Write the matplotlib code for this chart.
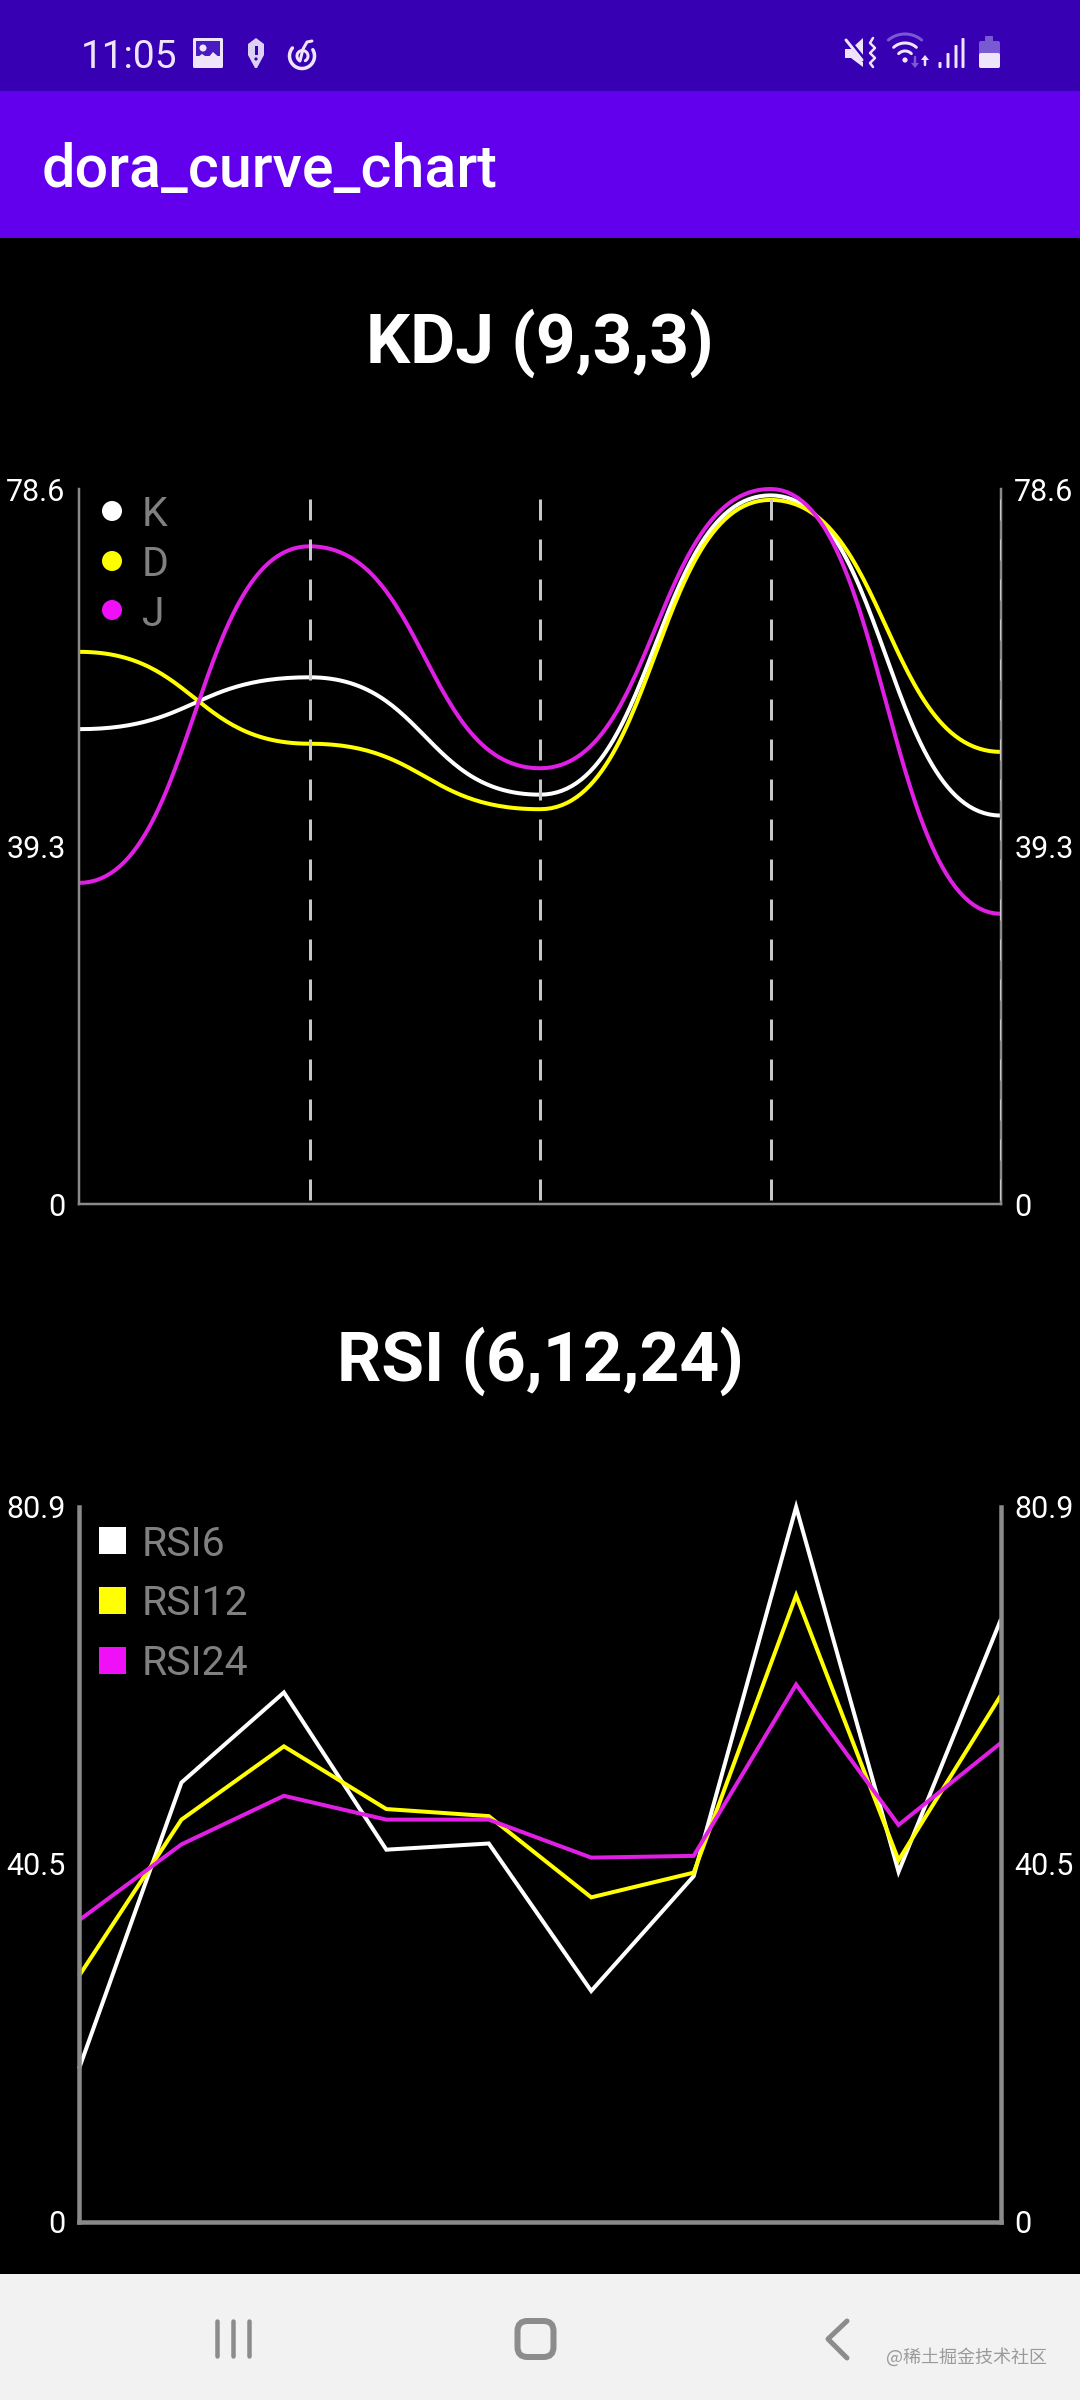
import numpy as np
import matplotlib
matplotlib.use("Agg")
import matplotlib.pyplot as plt
from matplotlib.patches import Rectangle, FancyBboxPatch, Polygon, Circle

plt.rcParams['font.family'] = ['Roboto', 'DejaVu Sans']
plt.rcParams['lines.scale_dashes'] = False

# ---- data ----
app_title = "dora_curve_chart"
status_time = "11:05"
watermark = "@稀土掘金技术社区"

kdj_title = "KDJ (9,3,3)"
kdj_ticks = [0, 39.3, 78.6]
kdj_names = ["K", "D", "J"]
k_values = [52.2, 57.9, 45.0, 77.9, 42.7]
d_values = [60.7, 50.6, 43.4, 77.4, 49.7]
j_values = [35.3, 72.3, 47.9, 78.6, 31.9]

rsi_title = "RSI (6,12,24)"
rsi_ticks = [0, 40.5, 80.9]
rsi_names = ["RSI6", "RSI12", "RSI24"]
rsi6_values = [17.3, 49.7, 59.9, 42.1, 42.8, 26.1, 39.1, 80.9, 39.6, 68.2]
rsi12_values = [27.8, 45.5, 53.8, 46.7, 45.9, 36.7, 39.5, 70.9, 40.9, 59.6]
rsi24_values = [34.1, 42.7, 48.2, 45.5, 45.5, 41.2, 41.4, 60.8, 44.9, 54.2]

# ---- style ----
WHITE, YELLOW, MAGENTA = '#FFFFFF', '#FFFF00', '#E01FE4'
LEGEND_MAGENTA = '#F010F8'
AXIS = '#8A8A8A'
GRID = '#C8C8C8'
ICON = '#EFE5FB'
ICON_DIM = '#7A5AD2'
PX = 72 / 100  # one pixel in points


def smooth(values, n=60):
    """Cubic segments with flat tangents at every value, as the chart's curve mode."""
    xs, ys = [], []
    t = np.linspace(0, 1, n)
    for i in range(len(values) - 1):
        y0, y1 = values[i], values[i + 1]
        bx = i + 3 * (1 - t) ** 2 * t * 0.5 + 3 * (1 - t) * t ** 2 * 0.5 + t ** 3
        by = (1 - t) ** 3 * y0 + 3 * (1 - t) ** 2 * t * y0 + 3 * (1 - t) * t ** 2 * y1 + t ** 3 * y1
        xs.extend(bx)
        ys.extend(by)
    return xs, ys


fig = plt.figure(figsize=(10.8, 24), dpi=100, facecolor='black')

# pixel overlay for the phone chrome and the legends
ui = fig.add_axes([0, 0, 1, 1], zorder=0)
ui.set_xlim(0, 1080)
ui.set_ylim(2400, 0)
ui.axis('off')

ui.add_patch(Rectangle((0, 0), 1080, 91, fc='#3700B3', lw=0))
ui.add_patch(Rectangle((0, 91), 1080, 147, fc='#6200EE', lw=0))
ui.add_patch(Rectangle((0, 2274), 1080, 126, fc='#F2F2F2', lw=0))

ui.text(81, 68, status_time, color=ICON, fontsize=28, va='baseline', ha='left')
ui.text(42, 187, app_title, color='white', fontsize=42.7, fontweight='medium', va='baseline', ha='left')
ui.text(540, 343, kdj_title, color='white', fontsize=50, fontweight='bold', va='center', ha='center')
ui.text(540, 1361, rsi_title, color='white', fontsize=50, fontweight='bold', va='center', ha='center')


def stroke(xs, ys, color=ICON, w=3, cap='round'):
    ui.plot(xs, ys, color=color, lw=w * PX, solid_capstyle=cap, solid_joinstyle='round')


def arc(cx, cy, r, a0, a1, color=ICON, w=3):
    a = np.radians(np.linspace(a0, a1, 60))
    stroke(cx + r * np.cos(a), cy - r * np.sin(a), color, w)


def rbox(x, y, w, h, r, fc, ec='none', lw=0):
    ui.add_patch(FancyBboxPatch((x + r, y + r), w - 2 * r, h - 2 * r,
                                boxstyle=f"round,pad={r},rounding_size={r}",
                                fc=fc, ec=ec, lw=lw * PX, mutation_aspect=1))


# status bar, left icons
rbox(193, 38, 30, 30, 1.5, ICON)
ui.add_patch(Rectangle((196, 41), 24, 15, fc='#4A1BC0', lw=0))
ui.add_patch(Circle((203, 48), 3.5, fc=ICON, lw=0))
ui.add_patch(Polygon([(194, 65), (194, 60), (202, 54), (208, 58), (213, 52), (222, 60), (222, 65)], fc=ICON, lw=0))
ui.add_patch(Polygon([(256, 38), (264, 44), (264, 55), (257, 68), (255, 68), (248, 55), (248, 44)], fc='#DCD0F5', lw=0))
ui.add_patch(Rectangle((254.5, 46), 3, 9, fc='#3700B3', lw=0))
ui.add_patch(Circle((256, 59), 1.6, fc='#3700B3', lw=0))
arc(302, 56, 12.5, 140, 390, w=3.5)
arc(302.5, 56, 5.5, -60, 240, w=3)
stroke([300, 303, 307, 312], [61, 49, 42, 41], w=3)

# status bar, right icons
ui.add_patch(Polygon([(845, 49), (851, 49), (863, 38), (863, 67), (851, 58), (845, 58)], fc=ICON, lw=0))
stroke([846, 864], [38, 60], color='#3700B3', w=5)
stroke([846, 862], [40, 60], w=3)
stroke([873, 870, 875, 870, 875, 870, 873], [38, 43, 48, 53, 58, 63, 67], w=2.5)
arc(905, 60, 26, 50, 130, color=ICON_DIM, w=3)
arc(905, 60, 17, 48, 132, w=3)
arc(905, 60, 9, 45, 135, w=3)
ui.add_patch(Circle((905, 60), 2.6, fc=ICON, lw=0))
stroke([915, 915], [57, 65], color=ICON_DIM, w=2.5)
ui.add_patch(Polygon([(911, 63), (919, 63), (915, 68)], fc=ICON_DIM, lw=0))
stroke([925, 925], [58, 65], w=2.5)
ui.add_patch(Polygon([(921, 60), (929, 60), (925, 55)], fc=ICON, lw=0))
for bx, top in zip([940, 948, 956, 963], [62, 53, 45, 38]):
    rbox(bx - 1.5, top, 3, 68 - top, 1, ICON)
rbox(985, 36, 8, 7, 1, ICON_DIM)
rbox(979, 41, 21, 27, 2, ICON_DIM)
rbox(979, 53, 21, 15, 2, ICON)

# navigation bar
for bx in (217, 233, 249):
    stroke([bx, bx], [2321, 2356], color='#8C8C8C', w=4.5)
rbox(517.5, 2321, 36, 36, 10, 'none', ec='#8C8C8C', lw=6)
stroke([847, 828, 847], [2321, 2339, 2358], color='#8C8C8C', w=5)
ui.text(886, 2357, watermark, color='#9A9A9A', fontsize=13, va='center', ha='left',
        family=['Noto Sans CJK SC', 'DejaVu Sans'])


def make_axes(top, bottom, ticks, spine_px):
    ax = fig.add_axes([79 / 1080, 1 - bottom / 2400, (1001 - 79) / 1080, (bottom - top) / 2400], zorder=2)
    ax.set_facecolor('none')
    ax.set_ylim(0, ticks[-1])
    ax.spines['top'].set_visible(False)
    for side in ('left', 'right', 'bottom'):
        ax.spines[side].set_color(AXIS)
        ax.spines[side].set_linewidth(spine_px * PX)
    ax.set_xticks([])
    ax.set_yticks(ticks)
    ax.set_yticklabels([str(t) for t in ticks])
    ax.tick_params(axis='y', length=0, pad=9.6, labelleft=True, labelright=True,
                   labelcolor='white', labelsize=22)
    return ax


# ---- KDJ ----
ax1 = make_axes(489, 1204, kdj_ticks, 2.5)
ax1.set_xlim(0, len(k_values) - 1)
for x in range(1, len(k_values)):
    ax1.axvline(x, ymin=0, ymax=0.989, color=GRID, lw=3 * PX, zorder=3,
                linestyle=(36 * PX, (21 * PX, 19 * PX)), dash_capstyle='butt')
for vals, c in zip([k_values, d_values, j_values], [WHITE, YELLOW, MAGENTA]):
    xs, ys = smooth(vals)
    ax1.plot(xs, ys, color=c, lw=4 * PX, zorder=2, clip_on=False, solid_capstyle='butt')

for name, c, cy in zip(kdj_names, [WHITE, YELLOW, LEGEND_MAGENTA], [511, 561, 610]):
    ui.add_patch(Circle((112, cy), 10, fc=c, lw=0))
    ui.text(142, cy + 15.5, name, color='#808080', fontsize=29.5, va='baseline', ha='left')

# ---- RSI ----
ax2 = make_axes(1507, 2221.5, rsi_ticks, 4.5)
ax2.set_xlim(0, len(rsi6_values) - 1)
for vals, c in zip([rsi6_values, rsi12_values, rsi24_values], [WHITE, YELLOW, MAGENTA]):
    ax2.plot(range(len(vals)), vals, color=c, lw=4 * PX, zorder=2, solid_joinstyle='miter',
             clip_on=False, solid_capstyle='butt')

for name, c, cy in zip(rsi_names, [WHITE, YELLOW, LEGEND_MAGENTA], [1540.5, 1600, 1660]):
    ui.add_patch(Rectangle((98.5, cy - 13.5), 27, 27, fc=c, lw=0))
    ui.text(142, cy + 15, name, color='#808080', fontsize=29.5, va='baseline', ha='left')

fig.savefig('out.png', dpi=100, facecolor='black')
